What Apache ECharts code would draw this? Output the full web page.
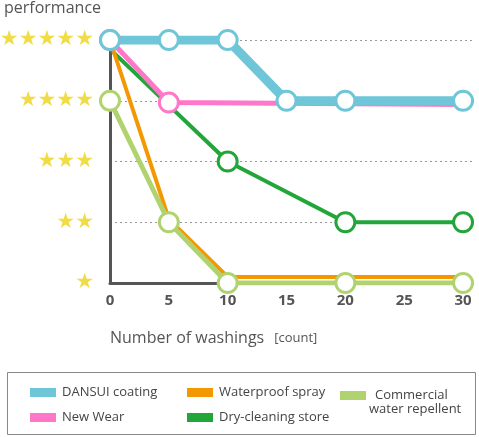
<!DOCTYPE html>
<html>
<head>
<meta charset="utf-8">
<script src="https://cdn.jsdelivr.net/npm/echarts@6/dist/echarts.min.js"></script>
<style>
html, body { margin: 0; padding: 0; background: #fff; }
#chart { width: 479px; height: 437px; }
</style>
</head>
<body>
<div id="chart"></div>
<script>
// 洗濯回数 (x) と性能 (星の数)
var washings = [0, 5, 10, 15, 20, 30];
var dansui = [5, 5, 5, 4, 4, 4];
var newWear = [[0, 5], [5, 3.97], [30, 3.94]];
var dryClean = [[0, 4.85], [10, 3], [20, 2], [30, 2]];
var spray = [[0, 5], [5, 2.05], [10, 1.1], [20, 1.1], [30, 1.1]];
var commercial = [[0, 4], [5, 2], [10, 1], [20, 1], [30, 1]];
var xTicks = [0, 5, 10, 15, 20, 25, 30];
var starLevels = [1, 2, 3, 4, 5];

var colors = {
    'DANSUI coating': '#6ec6d8',
    'New Wear': '#ff77c8',
    'Waterproof spray': '#f39800',
    'Dry-cleaning store': '#22a63a',
    'Commercial water repellent': '#b0d36f'
};

function pairs(ys) {
    return washings.map(function (x, i) { return [x, ys[i]]; });
}

function lineSeries(name, data, width, showSym) {
    return {
        name: name,
        type: 'line',
        data: data,
        symbol: 'circle',
        symbolSize: 19,
        showSymbol: showSym,
        showAllSymbol: true,
        lineStyle: { color: colors[name], width: width },
        itemStyle: { color: '#fff', borderColor: colors[name], borderWidth: 3 },
        emphasis: { disabled: true },
        animation: false
    };
}

function legendItem(name) {
    return { name: name, icon: 'rect', itemStyle: { color: colors[name], borderWidth: 0 } };
}

var chart = echarts.init(document.getElementById('chart'));
var legendText = { color: '#444', fontSize: 13, fontFamily: 'Open Sans', padding: [0, 0, 0, 1] };

var pinkSeries = lineSeries('New Wear', newWear, 5, true);
// 30回目の点は DANSUI の円の下に隠れる
pinkSeries.symbolSize = function (v) { return v[0] === 30 ? 0 : 19; };
var greenSeries = lineSeries('Dry-cleaning store', dryClean, 4, true);
greenSeries.symbolSize = function (v) { return v[0] === 0 ? 0 : 19; };

var option = {
    animation: false,
    grid: { left: 110, right: 7, top: 40, bottom: 154, containLabel: false, outerBoundsMode: 'none' },
    xAxis: {
        type: 'value',
        min: 0,
        max: 30.76,
        interval: 5,
        axisLine: { lineStyle: { color: '#555', width: 3 } },
        axisTick: { show: false },
        splitLine: { show: false },
        axisLabel: {
            showMaxLabel: false,
            margin: 10,
            color: '#555',
            fontSize: 15,
            fontWeight: 'bold',
            fontFamily: 'Open Sans',
            formatter: function (v) { return xTicks.indexOf(v) >= 0 ? String(v) : ''; }
        }
    },
    yAxis: {
        type: 'value',
        min: 1,
        max: 5,
        interval: 1,
        axisLine: { show: true, lineStyle: { color: '#555', width: 3 } },
        axisTick: { show: false },
        splitLine: { show: true, showMinLine: false, lineStyle: { color: '#999', type: [2, 3], width: 1 } },
        axisLabel: {
            margin: 16,
            color: '#f0dc45',
            fontSize: 21,
            fontFamily: 'DejaVu Sans',
            formatter: function (v) { return starLevels.indexOf(v) >= 0 ? '★'.repeat(v) : ''; }
        }
    },
    legend: [
        { left: 25, top: 381, orient: 'vertical', itemWidth: 26, itemHeight: 9, itemGap: 12, selectedMode: false, textStyle: legendText,
          data: [legendItem('DANSUI coating'), legendItem('New Wear')] },
        { left: 182, top: 381, orient: 'vertical', itemWidth: 26, itemHeight: 9, itemGap: 12, selectedMode: false, textStyle: legendText,
          data: [legendItem('Waterproof spray'), legendItem('Dry-cleaning store')] },
        { left: 335, top: 384, orient: 'vertical', itemWidth: 26, itemHeight: 9, selectedMode: false,
          textStyle: { color: '#444', fontSize: 13, fontFamily: 'Open Sans', padding: [0, 0, 0, 4] },
          formatter: function () { return 'Commercial'; },
          data: [legendItem('Commercial water repellent')] }
    ],
    graphic: [
        { type: 'text', left: 4, top: 0, style: { text: 'performance', fill: '#555', fontSize: 16, fontFamily: 'Open Sans' } },
        { type: 'text', left: 110, top: 330, style: {
            text: '{a|Number of washings}   {b|[count]}',
            rich: {
                a: { fill: '#555', fontSize: 16, fontFamily: 'Open Sans' },
                b: { fill: '#555', fontSize: 13, fontFamily: 'Open Sans' }
            } } },
        { type: 'rect', left: 5, top: 370, shape: { width: 468, height: 62 }, style: { fill: 'none', stroke: '#888', lineWidth: 1 } },
        { type: 'text', left: 369, top: 403, style: { text: 'water repellent', fill: '#444', fontSize: 13, fontFamily: 'Open Sans' } }
    ],
    series: [
        greenSeries,
        lineSeries('Waterproof spray', spray, 4, false),
        lineSeries('Commercial water repellent', commercial, 5, true),
        pinkSeries,
        lineSeries('DANSUI coating', pairs(dansui), 9, true)
    ]
};
chart.setOption(option);
</script>
</body>
</html>
